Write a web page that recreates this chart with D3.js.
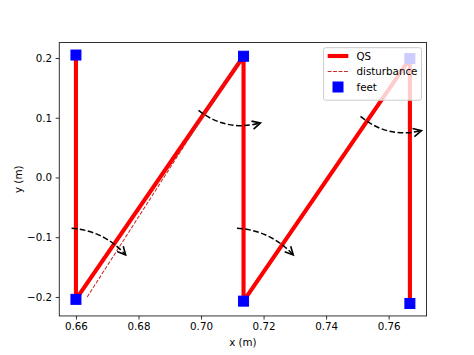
<!DOCTYPE html>
<html><head><meta charset="utf-8">
<script src="https://cdn.jsdelivr.net/npm/d3@7"></script>
<style>body{margin:0;background:#fff;} svg{display:block;font-family:"DejaVu Sans",sans-serif;}</style>
</head><body><svg id="c" width="474" height="355"></svg>
<script>
// ---- data ----
const qsX = [0.660, 0.660, 0.7136, 0.7136, 0.7668, 0.7668];
const qsY = [0.205, -0.204, 0.203, -0.207, 0.199, -0.211];
const feetX = [0.660, 0.660, 0.7136, 0.7136, 0.7668, 0.7668];
const feetY = [0.205, -0.204, 0.203, -0.207, 0.199, -0.211];
const disturbanceX = [0.6636, 0.7130];
const disturbanceY = [-0.200, 0.203];
const arrowStartX = [0.6586, 0.6992, 0.7115, 0.7510];
const arrowStartY = [-0.0849, 0.1124, -0.0849, 0.1023];
const arrowEndX = [0.6759, 0.7190, 0.7295, 0.7705];
const arrowEndY = [-0.1297, 0.0913, -0.1297, 0.0784];
const arrowRad = [-0.2, 0.25, -0.2, 0.25];
const xTicks = [0.66, 0.68, 0.70, 0.72, 0.74, 0.76];
const yTicks = [-0.2, -0.1, 0.0, 0.1, 0.2];
const legendLabels = ["QS", "disturbance", "feet"];
const xLabel = "x (m)", yLabel = "y (m)";

// ---- layout ----
const W = 474, H = 355;
const L = 59.25, R = 426.6, T = 42.6, B = 315.95;
const fs = 10.3;
const RED = "#ff0000", DIST = "#c82828", BLUE = "#0000ff";

const allX = qsX.concat(feetX), allY = qsY.concat(feetY);
const [x0, x1] = d3.extent(allX), [y0, y1] = d3.extent(allY);
const mx = (x1 - x0) * 0.05, my = (y1 - y0) * 0.05;
const x = d3.scaleLinear().domain([x0 - mx, x1 + mx]).range([L, R]);
const y = d3.scaleLinear().domain([y0 - my, y1 + my]).range([B, T]);

const svg = d3.select("#c");
svg.append("rect").attr("width", W).attr("height", H).attr("fill", "#fff");

// axes
const xAxis = d3.axisBottom(x).tickValues(xTicks).tickFormat(d3.format(".2f")).tickSizeInner(3.6).tickSizeOuter(0).tickPadding(3.6);
const yAxis = d3.axisLeft(y).tickValues(yTicks).tickFormat(d3.format(".1f")).tickSizeInner(3.6).tickSizeOuter(0).tickPadding(3.6);
const gx = svg.append("g").attr("transform", `translate(0,${B})`).call(xAxis);
const gy = svg.append("g").attr("transform", `translate(${L},0)`).call(yAxis);
[gx, gy].forEach(g => {
  g.select(".domain").remove();
  g.selectAll("text").attr("font-size", fs).attr("fill", "#000").attr("font-family", "DejaVu Sans");
  g.selectAll("line").attr("stroke", "#000").attr("stroke-width", 0.8);
});

svg.append("text").attr("x", (L + R) / 2).attr("y", 346).attr("text-anchor", "middle")
  .attr("font-size", fs).text(xLabel);
svg.append("text").attr("transform", `translate(22,${(T + B) / 2}) rotate(-90)`).attr("text-anchor", "middle")
  .attr("font-size", fs).text(yLabel);

// QS line
const line = d3.line().x(d => x(d[0])).y(d => y(d[1]));
svg.append("path").datum(qsX.map((v, i) => [v, qsY[i]])).attr("d", line)
  .attr("fill", "none").attr("stroke", RED).attr("stroke-width", 4.1)
  .attr("stroke-linejoin", "round").attr("stroke-linecap", "square");

// disturbance
svg.append("path").datum(disturbanceX.map((v, i) => [v, disturbanceY[i]])).attr("d", line)
  .attr("fill", "none").attr("stroke", DIST).attr("stroke-width", 1.03)
  .attr("stroke-dasharray", "3.8,1.65");

// feet
const ms = 10;
svg.append("g").selectAll("rect").data(feetX.map((v, i) => [v, feetY[i]])).join("rect")
  .attr("x", d => x(d[0]) - ms / 2).attr("y", d => y(d[1]) - ms / 2)
  .attr("width", ms).attr("height", ms).attr("fill", BLUE).attr("stroke", BLUE).attr("stroke-width", 1);

// arrows
const ga = svg.append("g");
arrowStartX.forEach((_, i) => {
  const sx = x(arrowStartX[i]), sy = y(arrowStartY[i]);
  const ex = x(arrowEndX[i]), ey = y(arrowEndY[i]);
  const dx = ex - sx, dy = ey - sy;
  const cx = (sx + ex) / 2 - arrowRad[i] * dy, cy = (sy + ey) / 2 + arrowRad[i] * dx;
  const p = d3.path(); p.moveTo(sx, sy); p.quadraticCurveTo(cx, cy, ex, ey);
  ga.append("path").attr("d", p.toString()).attr("fill", "none").attr("stroke", "#000")
    .attr("stroke-width", 1.5).attr("stroke-dasharray", "5.7,2.5");
  const tx = ex - cx, ty = ey - cy, n = Math.hypot(tx, ty);
  const ux = tx / n, uy = ty / n;
  const hl = 8.2, hw = 4.1;
  const h = d3.path();
  h.moveTo(ex - hl * ux + hw * uy, ey - hl * uy - hw * ux);
  h.lineTo(ex, ey);
  h.lineTo(ex - hl * ux - hw * uy, ey - hl * uy + hw * ux);
  ga.append("path").attr("d", h.toString()).attr("fill", "none").attr("stroke", "#000")
    .attr("stroke-width", 1.6).attr("stroke-linejoin", "miter");
});

// frame
svg.append("rect").attr("x", L).attr("y", T).attr("width", R - L).attr("height", B - T)
  .attr("fill", "none").attr("stroke", "#000").attr("stroke-width", 0.8);

// legend
const lgR = R - 5.1, lgT = T + 5.1, lgW = 97.9, lgH = 52.5;
const lg = svg.append("g");
lg.append("rect").attr("x", lgR - lgW).attr("y", lgT).attr("width", lgW).attr("height", lgH)
  .attr("rx", 2).attr("fill", "#fff").attr("fill-opacity", 0.8).attr("stroke", "#cccccc").attr("stroke-width", 1);
const rowY = [56, 71.5, 87];
const hx0 = lgR - lgW + 4.1, hx1 = hx0 + 20.6, tx0 = hx1 + 8.2;
lg.append("line").attr("x1", hx0).attr("x2", hx1).attr("y1", rowY[0]).attr("y2", rowY[0])
  .attr("stroke", RED).attr("stroke-width", 4.1);
lg.append("line").attr("x1", hx0).attr("x2", hx1).attr("y1", rowY[1]).attr("y2", rowY[1])
  .attr("stroke", DIST).attr("stroke-width", 1.03).attr("stroke-dasharray", "3.8,1.65");
lg.append("rect").attr("x", (hx0 + hx1) / 2 - ms / 2).attr("y", rowY[2] - ms / 2).attr("width", ms).attr("height", ms)
  .attr("fill", BLUE).attr("stroke", BLUE).attr("stroke-width", 1);
legendLabels.forEach((t, i) => {
  lg.append("text").attr("x", tx0).attr("y", rowY[i]).attr("dy", "0.36em").attr("font-size", fs).text(t);
});
</script></body></html>
